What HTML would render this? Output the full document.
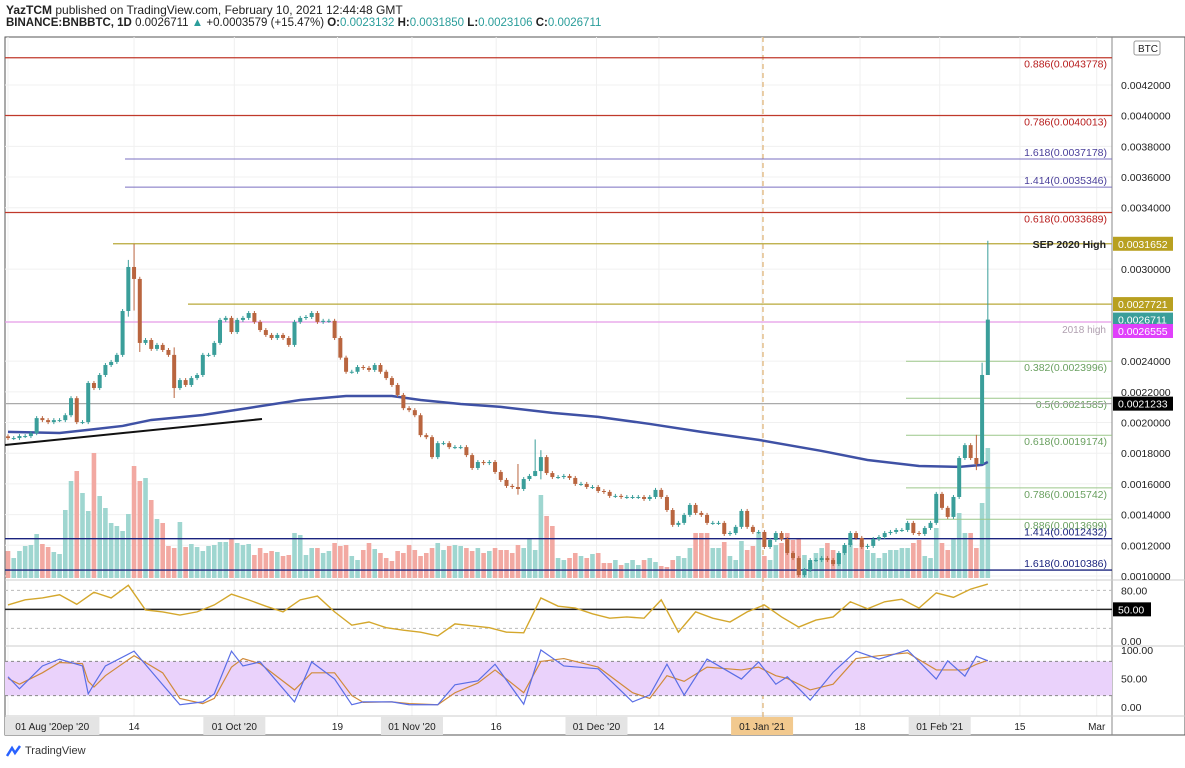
<!DOCTYPE html>
<html><head><meta charset="utf-8">
<style>
body{margin:0;background:#fff;width:1185px;height:768px;overflow:hidden;font-family:"Liberation Sans",sans-serif;}
#hdr1{position:absolute;left:6px;top:3px;font-size:12px;color:#222;}
#hdr2{position:absolute;left:6px;top:17px;font-size:11.5px;color:#222;}
#hdr2 .v{color:#2a9d9a}
svg{position:absolute;left:0;top:0}
#logo{position:absolute;left:6px;top:745px;font-size:11px;color:#333;display:flex;align-items:center;gap:3px}
</style></head><body>
<div id="hdr1"><b>YazTCM</b> published on TradingView.com, February 10, 2021 12:44:48 GMT</div>
<div id="hdr2"><b>BINANCE:BNBBTC, 1D</b> 0.0026711 <span style="color:#2a9d9a">▲</span> +0.0003579 (+15.47%) <b>O:</b><span class="v">0.0023132</span> <b>H:</b><span class="v">0.0031850</span> <b>L:</b><span class="v">0.0023106</span> <b>C:</b><span class="v">0.0026711</span></div>
<svg id="chart" width="1185" height="768"></svg>
<div id="logo"><svg width="16" height="12" style="position:static"><path d="M1 11 L6 3 L9 8 L14 1" stroke="#2962ff" stroke-width="2.5" fill="none"/></svg>TradingView</div>
<script>
// ---- data (prices in units of 1e-4 BTC) ----
const closes=[18.99,18.99,19.12,19.12,19.31,20.29,20.16,20.03,20.16,20.16,
20.48,21.59,20.03,20.03,22.58,22.25,23.10,23.75,23.95,24.41,
27.27,30.14,29.36,25.19,25.38,24.80,25.06,24.73,24.41,22.25,
22.77,22.45,22.90,23.10,24.41,24.41,25.19,26.69,26.82,25.90,
26.69,26.82,27.14,26.56,26.03,25.71,25.51,25.71,25.51,25.06,
26.56,26.82,26.88,27.14,26.56,26.63,26.63,25.51,24.23,23.31,
23.31,23.62,23.56,23.43,23.75,23.31,22.90,22.45,21.80,20.94,20.81,
20.48,19.18,19.05,17.75,18.66,18.66,18.40,18.40,18.40,17.88,
17.04,17.43,17.36,17.43,16.78,16.26,15.87,15.80,15.67,16.32,
16.52,16.84,17.75,16.71,16.45,16.45,16.52,16.39,16.00,16.00,
15.80,15.80,15.54,15.48,15.22,15.22,15.15,15.15,15.15,15.15,
15.02,15.15,15.61,15.15,14.30,13.33,13.46,13.98,14.63,14.11,
13.98,13.46,13.46,13.46,12.74,12.80,13.20,14.24,13.20,12.87,
12.87,11.89,12.35,12.80,12.41,11.50,11.17,10.06,10.39,11.04,
11.04,11.17,11.04,10.78,11.50,12.02,12.80,12.48,11.89,11.96,
12.41,12.54,12.80,12.87,13.00,13.00,13.46,12.80,12.74,13.13,
13.46,15.35,14.44,13.85,15.15,17.69,18.53,17.69,17.30,23.10,26.71];
const firstOpen=19.10;
const wicks=[[21,30.6,26.9],[22,31.65,27.3],[23,29.5,24.6],[29,24.9,21.6],[89,17.3,15.3],[92,18.9,16.5],[93,18.2,16.3],[169,19.2,16.9],[170,23.9,17.5],[171,31.85,23.11]];
const volumes=[27,20,27,32,33,44,34,31,26,24,68,97,107,85,67,125,82,70,55,52,47,64,112,97,100,78,59,55,32,30,56,31,34,31,27,32,33,36,36,39,35,33,34,23,30,25,27,26,22,23,45,43,23,30,30,25,27,35,32,33,22,18,28,35,29,25,20,17,27,25,33,
28,22,25,30,35,28,32,33,32,30,27,30,25,27,30,28,28,25,33,30,40,28,83,62,52,20,18,20,25,22,20,24,25,15,15,18,13,15,18,13,18,20,16,12,11,18,22,20,30,45,45,45,30,30,36,22,18,37,28,32,45,22,18,33,35,45,38,40,23,15,
25,30,35,28,25,33,35,30,35,28,25,20,25,28,28,30,30,35,38,22,20,50,35,28,40,65,45,45,30,75,130];
const maDays=[0,9,14,20,25,34,42,51,59,67,72,79,86,95,103,112,121,131,142,150,159,166,170,171];
const maValues=[19.39,19.32,19.52,19.78,20.17,20.49,20.95,21.47,21.73,21.73,21.47,21.21,21.02,20.63,20.37,19.91,19.39,18.87,18.15,17.56,17.17,17.11,17.24,17.43];
const rsiValues=[57,65,68,73,58,77,68,88,49,46,41,46,57,74,65,55,46,65,71,46,25,30,21,17,14,8,27,24,21,14,13,68,55,52,43,36,38,36,65,14,46,36,30,46,57,38,22,33,38,62,51,62,66,52,76,69,82,90];
const stochDays=[0,2,6,9,13,14,15,17,22,27,30,34,36,39,41,44,50,53,57,60,62,67,70,75,78,82,85,90,93,97,103,109,112,115,118,122,128,131,134,136,140,144,148,152,157,162,164,167,169,171];
const stochK=[53,32,72,84,72,23,40,72,98,39,4,9,23,98,72,79,9,79,49,4,9,9,4,4,39,46,75,5,100,72,67,9,21,75,21,84,49,79,40,53,12,61,98,84,100,49,81,54,89,81];
const stochD=[50,40,60,78,76,45,35,55,90,60,15,6,15,70,85,76,30,60,60,20,8,9,6,4,25,42,65,25,80,85,70,25,15,55,45,70,65,70,55,50,30,40,85,90,95,65,65,65,75,82];
const priceTicks=[42,40,38,36,34,30,24,22,20,18,16,14,12,10];
const dateLabels=[["01 Aug '20ep '20",0,true],["14",22,false],["01 Oct '20",39.5,true],["19",57.5,false],["01 Nov '20",70.5,true],["16",85.2,false],["01 Dec '20",102.7,true],["14",113.6,false],["01 Jan '21",131.6,true],["18",148.7,false],["01 Feb '21",162.6,true],["15",176.6,false],["Mar",190,false]];
const fibNames=["0.886(0.0043778)","0.786(0.0040013)","1.618(0.0037178)","1.414(0.0035346)","0.618(0.0033689)","0.382(0.0023996)","0.5(0.0021585)","0.618(0.0019174)","0.786(0.0015742)","0.886(0.0013699)","1.414(0.0012432)","1.618(0.0010386)"];
const fibPrices=[43.778,40.013,37.178,35.346,33.689,23.996,21.585,19.174,15.742,13.699,12.432,10.386];
const fibStart=[5,5,125,125,5,906,906,906,906,906,5,5];
const fibKind=["red","red","purple","purple","red","green","green","green","green","green","navy","navy"];
const labelBelow=[true,true,false,false,true,true,true,true,true,true,false,false];
const kindStyle={red:['#c0392b','#b71c1c',1.2],purple:['#7a6fc0','#4a3f9a',1],green:['#9cc78a','#6aa060',1],navy:['#1a237e','#1a237e',1.4]};
// ---- scales ----
const L=5,R=1112;
const px=i=>8+i*5.73;
const py=p=>85+(42-p)*15.3437;
const vy=v=>578-v;
const ry=v=>641-v*0.633;
const sy=v=>707-v*0.57;
const svg=document.getElementById('chart');
const NS='http://www.w3.org/2000/svg';
function mk(tag,at,parent){const e=document.createElementNS(NS,tag);for(const k in at)e.setAttribute(k,at[k]);(parent||svg).appendChild(e);return e;}
function txt(s,at){const e=mk('text',at);e.textContent=s;return e;}
// frame & grid
let g=mk('rect',{x:L,y:37,width:1180,height:698,fill:'none',stroke:'#555','stroke-width':1});


priceTicks.forEach(t=>{let l=mk('line',{x1:L,x2:R,y1:py(t),y2:py(t),stroke:'#f0f0f0'});

});
dateLabels.forEach(d=>{let l=mk('line',{x1:px(d[1]),x2:px(d[1]),y1:37,y2:716,stroke:'#f0f0f0'});

});
let ax=mk('line',{x1:R,x2:R,y1:37,y2:735,stroke:'#888'});


[580,646,716].forEach(y=>{let l=mk('line',{x1:L,x2:1185,y1:y,y2:y,stroke:'#ccc'});

});
let vd=mk('line',{x1:763,x2:763,y1:37,y2:735,stroke:'#e0b070','stroke-dasharray':'5,4','stroke-width':1.2});


// volumes
volumes.forEach((v,i)=>{const o=i?closes[i-1]:firstOpen;const up=closes[i]>=o;
let r=mk('rect',{x:px(i)-2.3,y:vy(v),width:4.6,height:v,fill:up?'#9fd6d0':'#f2a9a2'});

});
// horizontal levels
fibPrices.forEach((p,k)=>{const y=py(p);const s=kindStyle[fibKind[k]];
let l=mk('line',{x1:fibStart[k],x2:R,y1:y,y2:y,stroke:s[0],'stroke-width':s[2]});


let t=txt(fibNames[k],{x:1107,y:labelBelow[k]?y+10:y-3,'font-size':10.5,fill:s[1],'text-anchor':'end'});

});
const extraLines=[[31.652,113,'#b8a838'],[27.721,188,'#b8a838'],[26.555,5,'#e59be8'],[21.233,5,'#aaa']];
extraLines.forEach(e=>{let l=mk('line',{x1:e[1],x2:R,y1:py(e[0]),y2:py(e[0]),stroke:e[2],'stroke-width':1.2});

});
let st=txt('SEP 2020 High',{x:1106,y:py(31.652)+4,'font-size':10.5,'font-weight':'bold',fill:'#222','text-anchor':'end'});


let hh=txt('2018 high',{x:1106,y:py(26.555)+11,'font-size':10,fill:'#b0a0b0','text-anchor':'end'});


let tl=mk('line',{x1:5,y1:445,x2:262,y2:419,stroke:'#111','stroke-width':2});


// MA
let d='';maDays.forEach((dd,k)=>{d+=(k?'L':'M')+px(dd)+' '+py(maValues[k]);});
let ma=mk('path',{d:d,fill:'none',stroke:'#3f51a5','stroke-width':2.5});


// candles
closes.forEach((c,i)=>{const o=i?closes[i-1]:firstOpen;const up=c>=o;const col=up?'#3a9e9a':'#b9653f';
let hi=Math.max(o,c),lo=Math.min(o,c);const w=wicks.find(q=>q[0]===i);
let y1=w?py(w[1]):py(hi)-2,y2=w?py(w[2]):py(lo)+2;
let wl=mk('line',{x1:px(i),x2:px(i),y1:y1,y2:y2,stroke:col,'stroke-width':1});


let b=mk('rect',{x:px(i)-2,y:py(hi),width:4,height:Math.max(1,py(lo)-py(hi)),fill:col});

});
// price axis labels
priceTicks.forEach(t=>{let e=txt((t/10000).toFixed(7),{x:1121,y:py(t)+4,'font-size':10.5,fill:'#222'});

});
const badges=[[31.652,'#b8a020','#fff'],[27.721,'#b8a020','#fff'],[26.711,'#3a9e9a','#fff'],[26.555,'#e040fb','#fff'],[21.233,'#000','#fff']];
badges.forEach(b=>{let y=py(b[0]);if(b[0]===26.555)y+=9;
let r=mk('rect',{x:1113,y:y-7,width:60,height:14,fill:b[1]});


let t=txt((b[0]/10000).toFixed(7),{x:1118,y:y+4,'font-size':10.5,fill:b[2]});

});
let bx=mk('rect',{x:1134,y:41,width:26,height:14,fill:'#fff',stroke:'#999',rx:2});


let bt=txt('BTC',{x:1138,y:52,'font-size':10,fill:'#222'});


// RSI pane
[[80,'#bbb','3,3',1],[20,'#bbb','3,3',1],[50,'#222','',1.5]].forEach(q=>{let l=mk('line',{x1:L,x2:R,y1:ry(q[0]),y2:ry(q[0]),stroke:q[1],'stroke-dasharray':q[2],'stroke-width':q[3]});

});
d='';rsiValues.forEach((v,k)=>{d+=(k?'L':'M')+px(k*3)+' '+ry(v);});
let rl=mk('path',{d:d,fill:'none',stroke:'#d4a72c','stroke-width':1.4});


[['80.00',80],['0.00',0]].forEach(q=>{let t=txt(q[0],{x:1121,y:ry(q[1])+4,'font-size':10.5,fill:'#222'});

});
let rb=mk('rect',{x:1113,y:ry(50)-7,width:38,height:14,fill:'#000'});


let rbt=txt('50.00',{x:1118,y:ry(50)+4,'font-size':10.5,fill:'#fff'});


// Stoch pane
let band=mk('rect',{x:L,y:sy(80),width:R-L,height:sy(20)-sy(80),fill:'#ead2fb'});


[80,20].forEach(v=>{let l=mk('line',{x1:L,x2:R,y1:sy(v),y2:sy(v),stroke:'#888','stroke-dasharray':'3,3'});

});
[[stochD,'#d08a3a','stoch-d-line'],[stochK,'#5a6ee6','stoch-k-line']].forEach(s=>{let dd='';stochDays.forEach((x,k)=>{dd+=(k?'L':'M')+px(x)+' '+sy(s[0][k]);});
let p=mk('path',{d:dd,fill:'none',stroke:s[1],'stroke-width':1.2});

});
[['100.00',100],['50.00',50],['0.00',0]].forEach(q=>{let t=txt(q[0],{x:1121,y:sy(q[1])+4,'font-size':10.5,fill:'#222'});

});
// date axis
dateLabels.forEach(dl=>{const x=px(dl[1]);const w=dl[0].length*5.4+8;const isJan=dl[0].indexOf('Jan')>=0;
if(dl[2]){let r=mk('rect',{x:dl[1]===0?5:x-w/2,y:717,width:w,height:18,fill:isJan?'#f2c98e':'#e4e4e4'});

}
let t=txt(dl[0],{x:dl[1]===0?5+w/2:x,y:730,'font-size':10,fill:'#222','text-anchor':'middle'});

});
</script>
</body></html>
